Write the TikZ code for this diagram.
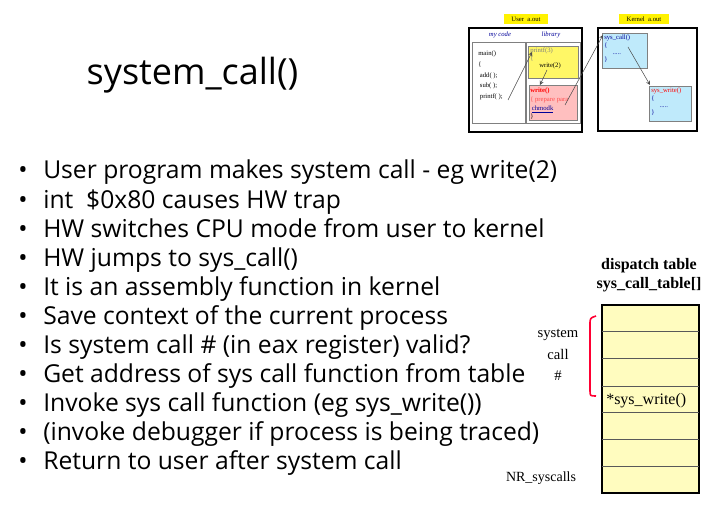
\documentclass[tikz,border=0pt]{standalone}
\usepackage{fontspec}
\setmainfont{Liberation Serif}
\newfontfamily\slide{Open Sans}
\begin{document}
\begin{tikzpicture}[x=0.75pt,y=-0.75pt,
 bul/.style={anchor=base west,font=\slide\fontsize{18.5}{20}\selectfont,inner sep=0},
 tiny/.style={font=\fontsize{5}{5.5}\selectfont,inner sep=0},
 arr/.style={->,>=stealth,thin,gray!60!black}]
\useasboundingbox (0,0) rectangle (715,513);
\node[font=\slide\fontsize{27}{30}\selectfont,anchor=west] (title) at (82,75) {system\_call()};
\foreach \t [count=\i] in {User program makes system call - eg write(2),int \ \$0x80 causes HW trap,HW switches CPU mode from user to kernel,HW jumps to sys\_call(),It is an assembly function in kernel,Save context of the current process,Is system call \# (in eax register) valid?,Get address of sys call function from table,Invoke sys call function (eg sys\_write()),(invoke debugger if process is being traced),Return to user after system call}{
 \node[bul] (b\i) at (43,{179+29.1*(\i-1)}) {\t};
 \node[bul] at (18,{179+29.1*(\i-1)}) {\textbullet};
}
% small diagram
\node[fill=yellow,tiny,minimum width=33pt,minimum height=8pt] (ul) at (526,19) {User \ a.out};
\node[fill=yellow,tiny,minimum width=37pt,minimum height=8pt] (kl) at (644,19) {Kernel \ a.out};
\draw[line width=0.8pt] (469,28) rectangle (582,132);
\draw[line width=0.8pt] (598,28) rectangle (697,131);
\node[tiny,text=blue!60!black,font=\itshape\fontsize{5}{5.5}\selectfont] at (500,35) {my code};
\node[tiny,text=blue!60!black,font=\itshape\fontsize{5}{5.5}\selectfont] at (551,35) {library};
\draw[gray] (472,42) rectangle (525,123);
\draw[gray] (526,42) rectangle (580,123);
\draw[gray,fill=yellow!60] (528,46) rectangle (578,78);
\draw[gray,fill=red!25] (529,85) rectangle (577,120);
\draw[gray,fill=cyan!25] (602,33) rectangle (647,68);
\draw[gray,fill=cyan!25] (649,86) rectangle (691,121);
\node[tiny,anchor=north west,align=left] (mc) at (478,51) {main()\\[2.5pt]\{\\[2.5pt]\ add( );\\[2.5pt]\ sub( );\\[2.5pt]\ printf( );};
\node[tiny,anchor=north west,align=left,text=gray] (pf) at (530,48) {printf(3)\\\{};
\node[tiny] (w2) at (550,66) {write(2)};
\node[tiny,anchor=north west,align=left] (wr) at (530,88) {\textcolor{red}{\textbf{write()}}\\[1pt]\textcolor{red!70}{\{ prepare para}\\[1pt]\ \textcolor{blue!60!black}{\underline{chmodk}}\\\}};
\node[tiny,anchor=north west,align=left,text=blue!60!black] (sc) at (604,35) {sys\_call()\\\{\\\ \ \ \ \ .....\\\}};
\node[tiny,anchor=north west,align=left,text=blue!60!black] (sw) at (651,88) {\textcolor{red}{sys\_write()}\\\{\\\ \ \ \ \ .....\\\}};
\coordinate (a1) at (508,100); \coordinate (a2) at (532,52);
\coordinate (a3) at (547,70); \coordinate (a4) at (540,85);
\coordinate (a5) at (565,105); \coordinate (a6) at (603,35);
\coordinate (a7) at (628,47); \coordinate (a8) at (650,85);
\draw[arr] (a1)--(a2); \draw[arr] (a3)--(a4); \draw[arr] (a5)--(a6); \draw[arr] (a7)--(a8);
% dispatch table
\node[font=\bfseries\fontsize{12}{14}\selectfont,align=center] (dt) at (649,275) {dispatch table\\sys\_call\_table[]};
\draw[fill=yellow!25,line width=1pt] (602,305) rectangle (699,493);
\foreach \y in {331,358,386,412,439,466} \draw[gray!70!black] (602,\y)--(699,\y);
\node[anchor=west,font=\fontsize{12}{14}\selectfont,inner sep=0] (swe) at (606,401) {*sys\_write()};
\node[align=center,font=\fontsize{11}{16}\selectfont] (scn) at (558,355) {system\\call\\\#};
\node[font=\fontsize{10.5}{12}\selectfont] (nr) at (541,478) {NR\_syscalls};
\draw[red!80!magenta,line width=1.2pt] (596,316) .. controls (590,318) .. (590,325) -- (590,390) .. controls (590,396) .. (596,396);
\end{tikzpicture}
\end{document}
